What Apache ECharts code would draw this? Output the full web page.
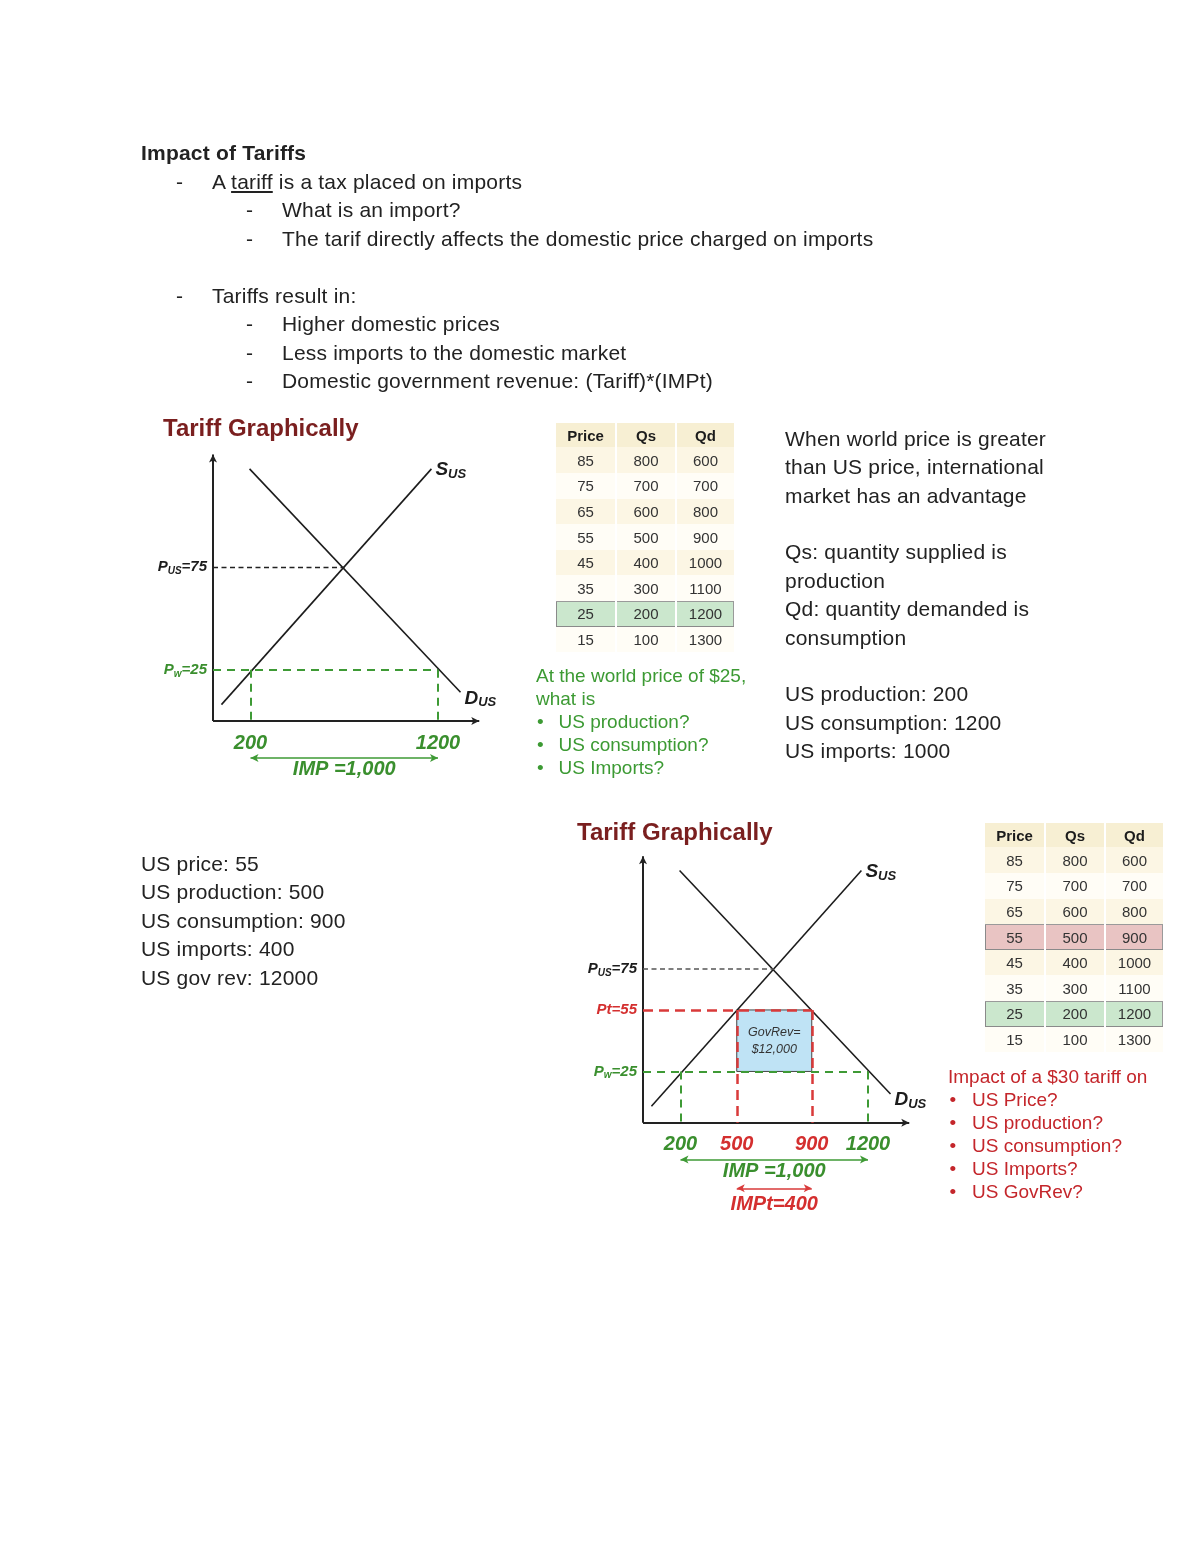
<!DOCTYPE html>
<html>
<head>
<meta charset="utf-8">
<title>Impact of Tariffs</title>
<script src="https://cdn.jsdelivr.net/npm/echarts@6.0.0/dist/echarts.min.js"></script>
<style>
    html, body { margin: 0; padding: 0; background: #fff; }
    body { width: 1200px; height: 1553px; position: relative; overflow: hidden;
           font-family: "Liberation Sans", Arial, sans-serif; color: #222; }
    #chart { position: absolute; left: 0; top: 0; width: 1200px; height: 1553px; }
    .blk { position: absolute; font-size: 21px; line-height: 28.5px; white-space: nowrap; letter-spacing: 0.2px; }
    .ln { position: relative; height: 28.5px; }
    .ln > * { position: absolute; top: 0; }
    .side { position: absolute; font-size: 19px; line-height: 23px; white-space: nowrap; }
    .side .ln { height: 23px; }
    table.sched { position: absolute; border-collapse: separate; border-spacing: 0; table-layout: fixed;
                  width: 178px; font-size: 15px; color: #333; text-align: center; }
    table.sched th { height: 24.2px; padding: 0; background: #f7efd3; color: #1c1c1c; }
    table.sched td { height: 25.6px; padding: 0; }
    table.sched th + th, table.sched td + td { border-left: 2px solid #fff; }
    table.sched tr.even td { background: #fcf6e4; }
    table.sched tr.odd td { background: #fffdf6; }
    table.sched tr.hlg td { background: #cbe7cd; }
    table.sched tr.hlr td { background: #e9c4c3; }
    table.sched tr.hlg td, table.sched tr.hlr td { box-shadow: inset 0 1px #9a9a9a, inset 0 -1px #8a8a8a; }
    table.sched tr.hlg td:first-child, table.sched tr.hlr td:first-child { box-shadow: inset 0 1px #9a9a9a, inset 0 -1px #8a8a8a, inset 1px 0 #8a8a8a; }
    table.sched tr.hlg td:last-child, table.sched tr.hlr td:last-child { box-shadow: inset 0 1px #9a9a9a, inset 0 -1px #8a8a8a, inset -1px 0 #9a9a9a; }
</style>
</head>
<body>
<div id="chart"></div>

<div class="blk" style="left:0;top:139px;">
    <div class="ln"><b style="left:141px">Impact of Tariffs</b></div>
    <div class="ln"><span style="left:176px">-</span><span style="left:212px">A <u>tariff</u> is a tax placed on imports</span></div>
    <div class="ln"><span style="left:246px">-</span><span style="left:282px">What is an import?</span></div>
    <div class="ln"><span style="left:246px">-</span><span style="left:282px">The tarif directly affects the domestic price charged on imports</span></div>
    <div class="ln"></div>
    <div class="ln"><span style="left:176px">-</span><span style="left:212px">Tariffs result in:</span></div>
    <div class="ln"><span style="left:246px">-</span><span style="left:282px">Higher domestic prices</span></div>
    <div class="ln"><span style="left:246px">-</span><span style="left:282px">Less imports to the domestic market</span></div>
    <div class="ln"><span style="left:246px">-</span><span style="left:282px">Domestic government revenue: (Tariff)*(IMPt)</span></div>
</div>

<div class="blk" style="left:785px;top:424.8px;line-height:28.4px;">
    When world price is greater<br>
    than US price, international<br>
    market has an advantage<br>
    <br>
    Qs: quantity supplied is<br>
    production<br>
    Qd: quantity demanded is<br>
    consumption<br>
    <br>
    US production: 200<br>
    US consumption: 1200<br>
    US imports: 1000
</div>

<div class="blk" style="left:141px;top:849.7px;">
    US price: 55<br>
    US production: 500<br>
    US consumption: 900<br>
    US imports: 400<br>
    US gov rev: 12000
</div>

<div class="side" style="left:0;top:663.5px;color:#3c9a33;">
    <div class="ln"><span style="left:536px">At the world price of $25,</span></div>
    <div class="ln"><span style="left:536px">what is</span></div>
    <div class="ln"><span style="left:537px">•</span><span style="left:558.5px">US production?</span></div>
    <div class="ln"><span style="left:537px">•</span><span style="left:558.5px">US consumption?</span></div>
    <div class="ln"><span style="left:537px">•</span><span style="left:558.5px">US Imports?</span></div>
</div>

<div class="side" style="left:0;top:1065.2px;color:#c4262b;">
    <div class="ln"><span style="left:948px">Impact of a $30 tariff on</span></div>
    <div class="ln"><span style="left:949.5px">•</span><span style="left:972px">US Price?</span></div>
    <div class="ln"><span style="left:949.5px">•</span><span style="left:972px">US production?</span></div>
    <div class="ln"><span style="left:949.5px">•</span><span style="left:972px">US consumption?</span></div>
    <div class="ln"><span style="left:949.5px">•</span><span style="left:972px">US Imports?</span></div>
    <div class="ln"><span style="left:949.5px">•</span><span style="left:972px">US GovRev?</span></div>
</div>

<table class="sched" id="tab1" style="left:556px;top:423.3px;"></table>
<table class="sched" id="tab2" style="left:985px;top:823.3px;"></table>

<script>
    // supply / demand schedule
    var prices = [85, 75, 65, 55, 45, 35, 25, 15];
    var qSupplied = [800, 700, 600, 500, 400, 300, 200, 100];
    var qDemanded = [600, 700, 800, 900, 1000, 1100, 1200, 1300];

    // ends of the drawn curves (quantity, price)
    var supplyQ = [45, 1165];
    var supplyP = [8, 123];
    var demandQ = [195, 1320];
    var demandP = [123, 14];

    var priceUS = 75;
    var priceWorld = 25;
    var tariff = 30;

    var qAxisRange = [0, 1420];
    var pAxisRange = [-50, 130];

    var FONT = '"Liberation Sans", Arial, sans-serif';
    var INK = '#1c1c1c', GREEN = '#3a8f2e', RED = '#d42f2f', GREEN_LINE = '#3e9a35', RED_LINE = '#d93a3a';

    function qsAt(p) { return qSupplied[prices.indexOf(p)]; }
    function qdAt(p) { return qDemanded[prices.indexOf(p)]; }

    var priceTariff = priceWorld + tariff;
    var qEq = qsAt(priceUS);
    var prodW = qsAt(priceWorld), consW = qdAt(priceWorld);
    var prodT = qsAt(priceTariff), consT = qdAt(priceTariff);
    var govRev = tariff * (consT - prodT);

    // tables
    function buildTable(id, marks) {
        var html = ['<colgroup><col style="width:59px"><col style="width:60px"><col style="width:59px"></colgroup>',
            '<tr><th>Price</th><th>Qs</th><th>Qd</th></tr>'], i, cls;
        for (i = 0; i < prices.length; i++) {
            cls = marks[prices[i]] || (i % 2 ? 'odd' : 'even');
            html.push('<tr class="' + cls + '"><td>' + prices[i] + '</td><td>' + qSupplied[i] + '</td><td>' + qDemanded[i] + '</td></tr>');
        }
        document.getElementById(id).innerHTML = html.join('');
    }
    var marks1 = {}, marks2 = {};
    marks1[priceWorld] = 'hlg';
    marks2[priceWorld] = 'hlg';
    marks2[priceTariff] = 'hlr';
    buildTable('tab1', marks1);
    buildTable('tab2', marks2);

    // rich text helpers
    function bi(size, color, extra) {
        var s = { fontFamily: FONT, fontWeight: 'bold', fontStyle: 'italic', fontSize: size, color: color };
        for (var k in extra) { s[k] = extra[k]; }
        return s;
    }
    function priceLabel(main, sub, rest, color) {
        return {
            show: true, position: 'start', distance: 6,
            formatter: '{pm|' + main + '}' + (sub ? '{ps|' + sub + '}' : '') + '{pm|' + rest + '}',
            rich: {
                pm: bi(15, color, { lineHeight: 18 }),
                ps: bi(10, color, { lineHeight: 10, verticalAlign: 'bottom' })
            }
        };
    }
    function qtyLabel(text, color) {
        return { show: true, position: 'end', distance: 12, formatter: String(text),
            fontFamily: FONT, fontWeight: 'bold', fontStyle: 'italic', fontSize: 20, color: color };
    }
    function spanLabel(text, color, dist) {
        return { show: true, position: 'insideMiddleBottom', distance: dist, formatter: text,
            fontFamily: FONT, fontWeight: 'bold', fontStyle: 'italic', fontSize: 20, color: color };
    }
    function seg(q0, p0, q1, p1, style, label, sym) {
        sym = sym || ['none', 'none'];
        return [
            { coord: [q0, p0], lineStyle: style, label: label || { show: false }, symbol: sym[0] },
            { coord: [q1, p1], symbol: sym[1] }
        ];
    }
    function fmt(n) { return n.toLocaleString('en-US'); }

    var axisStyle = { color: '#222', width: 2, type: 'solid' };
    var blackDash = { color: '#222', width: 1.3, type: [5, 3.5] };
    var greyDash = { color: '#555', width: 1.6, type: [5, 3.5] };
    var greenDash = { color: GREEN_LINE, width: 2, type: [8, 6] };
    var redDash = { color: RED_LINE, width: 2.5, type: [10, 6] };
    var greenArrow = { color: GREEN_LINE, width: 1.5, type: 'solid' };
    var redArrow = { color: RED_LINE, width: 1.5, type: 'solid' };

    var impLevel = -18, imptLevel = -32;

    function axesLines() {
        return [
            seg(qAxisRange[0], 0, qAxisRange[1], 0, axisStyle, null, ['none', 'arrow']),
            seg(0, 0, 0, pAxisRange[1], axisStyle, null, ['none', 'arrow'])
        ];
    }

    var guides1 = axesLines().concat([
        seg(0, priceUS, qEq, priceUS, blackDash, priceLabel('P', 'US', '=' + priceUS, INK)),
        seg(0, priceWorld, consW, priceWorld, greenDash, priceLabel('P', 'w', '=' + priceWorld, GREEN)),
        seg(prodW, priceWorld, prodW, 0, greenDash, qtyLabel(prodW, GREEN)),
        seg(consW, priceWorld, consW, 0, greenDash, qtyLabel(consW, GREEN)),
        seg(prodW, impLevel, consW, impLevel, greenArrow, spanLabel('IMP =' + fmt(consW - prodW), GREEN, 2), ['arrow', 'arrow'])
    ]);

    var guides2 = axesLines().concat([
        seg(0, priceUS, qEq, priceUS, greyDash, priceLabel('P', 'US', '=' + priceUS, INK)),
        seg(0, priceWorld, consW, priceWorld, greenDash, priceLabel('P', 'w', '=' + priceWorld, GREEN)),
        seg(0, priceTariff, consT, priceTariff, redDash, priceLabel('Pt=' + priceTariff, '', '', RED)),
        seg(prodW, priceWorld, prodW, 0, greenDash, qtyLabel(prodW, GREEN)),
        seg(consW, priceWorld, consW, 0, greenDash, qtyLabel(consW, GREEN)),
        seg(prodT, priceTariff, prodT, 0, redDash, qtyLabel(prodT, RED)),
        seg(consT, priceTariff, consT, 0, redDash, qtyLabel(consT, RED)),
        seg(prodW, impLevel, consW, impLevel, greenArrow, spanLabel('IMP =' + fmt(consW - prodW), GREEN, 2), ['arrow', 'arrow']),
        seg(prodT, imptLevel, consT, imptLevel, redArrow, spanLabel('IMPt=' + (consT - prodT), RED, 6), ['arrow', 'arrow'])
    ]);

    function curve(name, qs, ps, gi, main, offset) {
        return {
            type: 'line', name: name, xAxisIndex: gi, yAxisIndex: gi, z: 3, silent: true,
            data: qs.map(function (q, i) { return [q, ps[i]]; }),
            symbol: 'none',
            lineStyle: { color: INK, width: 1.6 },
            endLabel: {
                show: true, distance: 4, offset: offset,
                formatter: '{lm|' + main + '}{ls|US}',
                rich: {
                    lm: bi(19, INK, { lineHeight: 22 }),
                    ls: bi(13, INK, { lineHeight: 13, verticalAlign: 'bottom' })
                }
            }
        };
    }

    function guideSeries(gi, items) {
        return {
            type: 'line', xAxisIndex: gi, yAxisIndex: gi, data: [], z: 4, silent: true,
            markLine: {
                silent: true, animation: false, symbol: ['none', 'none'], symbolSize: [6, 8],
                label: { show: false }, emphasis: { disabled: true },
                data: items
            }
        };
    }

    var series = [
        curve('Supply', supplyQ, supplyP, 0, 'S', [0, 1]),
        curve('Demand', demandQ, demandP, 0, 'D', [0, 6]),
        guideSeries(0, guides1),
        {
            type: 'line', xAxisIndex: 1, yAxisIndex: 1, data: [], z: 1, silent: true,
            markArea: {
                silent: true,
                itemStyle: { color: '#bfe3f5', borderColor: '#444', borderWidth: 1 },
                label: {
                    show: true, position: 'inside', formatter: 'GovRev=\n$' + fmt(govRev),
                    fontFamily: FONT, fontStyle: 'italic', fontSize: 12.5, lineHeight: 17, color: '#333'
                },
                data: [[{ coord: [prodT, priceWorld] }, { coord: [consT, priceTariff] }]]
            }
        },
        curve('Supply', supplyQ, supplyP, 1, 'S', [0, 1]),
        curve('Demand', demandQ, demandP, 1, 'D', [0, 6]),
        guideSeries(1, guides2)
    ];

    function axis(gi, range) {
        return { type: 'value', gridIndex: gi, min: range[0], max: range[1], show: false };
    }

    var titleStyle = { color: '#7a1f1f', fontSize: 24, fontWeight: 'bold', fontFamily: FONT };

    var chart = echarts.init(document.getElementById('chart'), null, { renderer: 'canvas' });
    chart.setOption({
        animation: false,
        backgroundColor: 'transparent',
        title: [
            { text: 'Tariff Graphically', left: 163, top: 417, padding: 0, textStyle: titleStyle },
            { text: 'Tariff Graphically', left: 577, top: 821, padding: 0, textStyle: titleStyle }
        ],
        grid: [
            { left: 213, top: 454.5, width: 266.25, height: 369 },
            { left: 643, top: 856.2, width: 266.25, height: 369 }
        ],
        xAxis: [axis(0, qAxisRange), axis(1, qAxisRange)],
        yAxis: [axis(0, pAxisRange), axis(1, pAxisRange)],
        series: series
    });
</script>
</body>
</html>
